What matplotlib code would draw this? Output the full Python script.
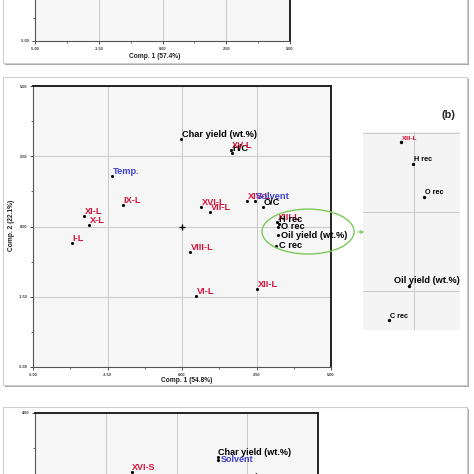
import matplotlib.pyplot as plt
from matplotlib.patches import Rectangle, Ellipse, FancyArrowPatch

plt.rcParams['font.family'] = ['Liberation Sans', 'DejaVu Sans']
plt.rcParams['axes.unicode_minus'] = False

W = 474  # lado da figura em pixels

# Painel (b): scores e loadings (Comp. 1, Comp. 2)
rotulos_b = ['Char yield (wt.%)', 'H/C', 'XV-L', 'Temp.', 'IX-L', 'XI-L', 'X-L',
             'I-L', 'XVI-L', 'VII-L', 'XIV-L', 'Solvent', 'O/C', 'XIII-L',
             'H rec', 'O rec', 'Oil yield (wt.%)', 'C rec', 'VIII-L', 'VI-L',
             'XII-L']
x_b = [-0.03, 1.68, 1.64, -2.35, -1.98, -3.29, -3.12, -3.69, 0.64, 0.94,
       2.18, 2.45, 2.72, 3.20, 3.24, 3.22, 3.22, 3.15, 0.27, 0.47, 2.52]
y_b = [3.13, 2.60, 2.72, 1.81, 0.78, 0.36, 0.04, -0.57, 0.71, 0.53,
       0.89, 0.89, 0.68, 0.16, 0.10, 0.00, -0.32, -0.68, -0.89, -2.46, -2.21]

# Painel (b): ampliacao do agrupamento
rotulos_zoom = ['XIII-L', 'H rec', 'O rec', 'Oil yield (wt.%)', 'C rec']
x_zoom = [3.209, 3.247, 3.282, 3.234, 3.171]
y_zoom = [0.222, 0.152, 0.047, -0.234, -0.342]

# Painel (c)
rotulos_c = ['Char yield (wt.%)', 'Solvent', 'XVI-S', 'H/C']
x_c = [1.16, 1.16, -1.27, 2.00]
y_c = [2.74, 2.66, 2.31, 2.03]

ticks_ab = [-5.0, -2.5, 0.0, 2.5, 5.0]
minor_ab = [-3.75, -1.25, 1.25, 3.75]
ticks_c = [-4.0, -2.0, 0.0, 2.0, 4.0]
minor_c = [-3.0, -1.0, 1.0, 3.0]

VERMELHO = '#d3173c'
AZUL = '#4040d0'


def cor(rotulo):
    if rotulo.endswith('-L') or rotulo.endswith('-S'):
        return VERMELHO
    if rotulo in ('Temp.', 'Solvent'):
        return AZUL
    return 'black'


def caixa(x0, y0, x1, y1):
    # converte caixa em pixels (origem no topo) para fracao da figura
    return [x0 / W, 1 - y1 / W, (x1 - x0) / W, (y1 - y0) / W]


def moldura(fig, y0, y1):
    x0, x1 = 3, 467
    b = caixa(x0 + 2, y0 + 2, x1 + 2, y1 + 2)
    fig.add_artist(Rectangle((b[0], b[1]), b[2], b[3], transform=fig.transFigure,
                             facecolor='#a8a8a8', edgecolor='none', zorder=-3))
    b = caixa(x0, y0, x1, y1)
    fig.add_artist(Rectangle((b[0], b[1]), b[2], b[3], transform=fig.transFigure,
                             facecolor='white', edgecolor='#cfcfcf', lw=0.8,
                             zorder=-2))


def estilizar(ax, lim, ticks, minors, xvis=None, yvis=None):
    # xvis / yvis: ticks cujo rotulo aparece dentro da figura
    ax.set_facecolor('#f6f6f6')
    ax.set_xlim(lim)
    ax.set_ylim(lim)
    ax.set_xticks(ticks)
    ax.set_yticks(ticks)
    ax.set_xticks(minors, minor=True)
    ax.set_yticks(minors, minor=True)
    xvis = ticks if xvis is None else xvis
    yvis = ticks if yvis is None else yvis
    ax.set_xticklabels([f'{t:.2f}' if t in xvis else '' for t in ticks])
    ax.set_yticklabels([f'{t:.2f}' if t in yvis else '' for t in ticks])
    ax.tick_params(which='major', length=2.5, width=0.6, labelsize=2.8,
                   pad=1.5, colors='#333333')
    ax.tick_params(which='minor', length=1.5, width=0.5, colors='#333333')
    for lab in ax.get_xticklabels() + ax.get_yticklabels():
        lab.set_fontweight('bold')
    ax.grid(True, which='major', color='#c9c9c9', lw=0.7)
    ax.set_axisbelow(True)
    for lado in ('left', 'bottom'):
        ax.spines[lado].set_color('#555555')
        ax.spines[lado].set_linewidth(0.8)
    for lado in ('top', 'right'):
        ax.spines[lado].set_color('#222222')
        ax.spines[lado].set_linewidth(1.4)


def rotular(ax, xs, ys, rotulos, tamanho, especiais):
    ax.scatter(xs, ys, s=1.5, c='black', zorder=3, clip_on=False)
    for x, y, r in zip(xs, ys, rotulos):
        dx, dy, va = especiais.get(r, (0.5, 0.0, 'bottom'))
        ax.annotate(r, (x, y), xytext=(dx, dy), textcoords='offset points',
                    ha='left', va=va, fontsize=tamanho, fontweight='bold',
                    color=cor(r), zorder=4, annotation_clip=False)


fig = plt.figure(figsize=(4.74, 4.74), dpi=100)

moldura(fig, -10, 63)
moldura(fig, 77, 385)
moldura(fig, 407, 490)

# Painel (a) - so a parte de baixo aparece
ax_a = fig.add_axes(caixa(35, 41 - 184, 290, 41))
estilizar(ax_a, (-5, 5), ticks_ab, minor_ab, yvis=[-5.0])
fig.text(155 / W, 1 - 57 / W, 'Comp. 1 (57.4%)', ha='center', va='center',
         fontsize=4.8, fontweight='bold', color='#222222')

# Painel (b)
ax_b = fig.add_axes(caixa(33, 86, 331, 367))
estilizar(ax_b, (-5, 5), ticks_ab, minor_ab)
ax_b.plot(0, 0, '+', color='black', ms=5, mew=1, zorder=3)
rotular(ax_b, x_b, y_b, rotulos_b, 6.7,
        {'O rec': (2, 0, 'center'), 'Oil yield (wt.%)': (2, 0, 'center'),
         'C rec': (2, 0, 'center')})
ax_b.add_patch(Ellipse((4.23, -0.18), 3.09, 1.6, fill=False,
                       edgecolor='#7cc95a', lw=1.0, clip_on=False, zorder=5))
fig.text(12 / W, 1 - 225 / W, 'Comp. 2 (22.1%)', rotation=90, ha='center',
         va='center', fontsize=4.8, fontweight='bold', color='#222222')
fig.text(187 / W, 1 - 380 / W, 'Comp. 1 (54.8%)', ha='center', va='center',
         fontsize=4.8, fontweight='bold', color='#222222')
fig.add_artist(FancyArrowPatch((355 / W, 1 - 232 / W), (367 / W, 1 - 232 / W),
                               transform=fig.transFigure, arrowstyle='->',
                               mutation_scale=5, color='#7cc95a', lw=0.8))
fig.text(448 / W, 1 - 115 / W, '(b)', ha='center', va='center', fontsize=7.8,
         fontweight='bold', color='#222222')

# Ampliacao do agrupamento
ax_z = fig.add_axes(caixa(363, 132, 460, 330))
ax_z.set_facecolor('#f4f4f4')
ax_z.set_xlim(3.089, 3.396)
ax_z.set_ylim(-0.373, 0.253)
for s in ax_z.spines.values():
    s.set_visible(False)
ax_z.set_xticks([])
ax_z.set_yticks([])
ax_z.axvline(3.25, color='#c9c9c9', lw=0.7, zorder=0)
for yg in (0.25, 0.0, -0.25):
    ax_z.axhline(yg, color='#c9c9c9', lw=0.7, zorder=0)
ax_z.scatter(x_zoom, y_zoom, s=2, c='black', zorder=3)
tam_zoom = {'XIII-L': 4.6, 'H rec': 5.2, 'O rec': 5.2,
            'Oil yield (wt.%)': 6.6, 'C rec': 5.2}
for x, y, r in zip(x_zoom, y_zoom, rotulos_zoom):
    dx = -11 if r.startswith('Oil') else 0.5
    ax_z.annotate(r, (x, y), xytext=(dx, 0.5), textcoords='offset points',
                  ha='left', va='bottom', fontsize=tam_zoom[r],
                  fontweight='bold', color=cor(r), annotation_clip=False)

# Painel (c) - so a parte de cima aparece
ax_c = fig.add_axes(caixa(35, 413, 318, 413 + 280))
estilizar(ax_c, (-4, 4), ticks_c, minor_c, xvis=[], yvis=[4.0])
rotular(ax_c, x_c, y_c, rotulos_c, 6.5, {'Solvent': (2, 0, 'center')})

fig.savefig('out.png', dpi=100)
